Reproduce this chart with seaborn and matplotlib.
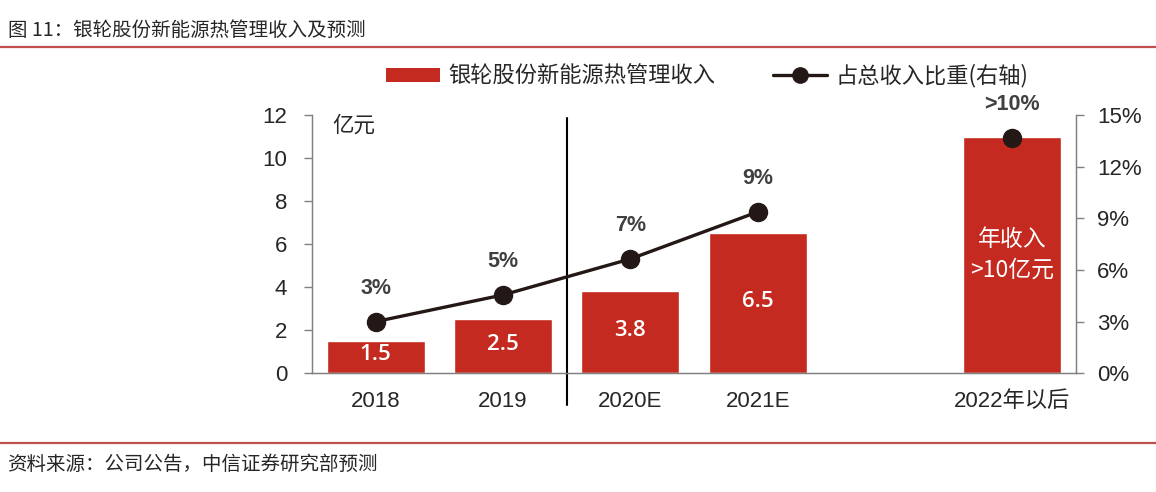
import numpy as np
import pandas as pd
import matplotlib
matplotlib.use("Agg")
import matplotlib.pyplot as plt
import seaborn as sns
from matplotlib.patches import Patch
from matplotlib.lines import Line2D
from matplotlib.ticker import FuncFormatter

# Data
years = ["2018", "2019", "2020E", "2021E", " ", "2022年以后"]
revenue = [1.5, 2.5, 3.8, 6.5, np.nan, 11.0]
bar_labels = ["1.5", "2.5", "3.8", "6.5", "", "年收入\n>10亿元"]
share = [3.0, 4.55, 6.64, 9.37, np.nan, 13.65]
share_labels = ["3%", "5%", "7%", "9%", "", ">10%"]

bar_color = "#C52A20"
line_color = "#231815"
rule_color = "#C0504D"
latin = ["Liberation Sans", "Noto Sans CJK SC"]
cjk = ["Noto Sans CJK SC", "DejaVu Sans"]

sns.set_style("white")
plt.rcParams["font.family"] = latin

df = pd.DataFrame({"year": years, "revenue": revenue}).dropna()

fig = plt.figure(figsize=(11.56, 4.92), dpi=100)
ax = fig.add_axes([0.2699, 0.2413, 0.6609, 0.525])

sns.barplot(data=df, x="year", y="revenue", order=years, color=bar_color,
            width=0.77, saturation=1, ax=ax)
ax.set_xlim(-0.5, len(years) - 0.5)
ax.set_ylim(0, 12)
ax.set_yticks(range(0, 13, 2))
ax.set_xlabel("")
ax.set_ylabel("")

# x ticks: labels at centers, tick marks at category boundaries
ax.set_xticks(range(len(years)))
ax.set_xticklabels(years, fontsize=16, family=latin)
ax.set_xticks(np.arange(-0.5, len(years), 1), minor=True)
ax.tick_params(axis="x", which="major", length=0, pad=13)
ax.tick_params(axis="x", which="minor", length=5, color="#808080", width=1)
ax.tick_params(axis="y", length=6, color="#808080", width=1, labelsize=16, pad=12)

for s in ["left", "bottom", "right"]:
    ax.spines[s].set_color("#808080")
    ax.spines[s].set_linewidth(1)
ax.spines["top"].set_visible(False)

# bar value labels
for i, (v, lab) in enumerate(zip(revenue, bar_labels)):
    if lab == "" or np.isnan(v):
        continue
    if "\n" in lab:
        ax.text(i, v / 2, lab, ha="center", va="center", color="white",
                fontsize=16.5, family=cjk, linespacing=1.45)
    else:
        ax.text(i, v / 2 + 0.1, lab, ha="center", va="center", color="white",
                fontsize=16, fontweight="semibold", family=["Open Sans", "DejaVu Sans"])

ax.text(-0.34, 11.5, "亿元", ha="left", va="center", fontsize=15.5, family=cjk)

# divider between actuals and forecasts
ax.axvline(1.5, ymin=-0.123, ymax=0.99, color="black", lw=1.5, clip_on=False)

# share of total revenue on right axis
ax2 = ax.twinx()
ax2.plot(range(len(years)), share, color=line_color, lw=2.4, marker="o",
         markersize=13, zorder=5)
ax2.set_ylim(0, 15)
ax2.set_yticks(range(0, 16, 3))
ax2.yaxis.set_major_formatter(FuncFormatter(lambda x, p: f"{x:.0f}%"))
ax2.tick_params(axis="y", length=6, color="#808080", width=1, labelsize=16, pad=9)
for s in ["left", "bottom", "right"]:
    ax2.spines[s].set_color("#808080")
ax2.spines["top"].set_visible(False)

for i, (v, lab) in enumerate(zip(share, share_labels)):
    if lab == "":
        continue
    ax2.annotate(lab, (i, v), xytext=(0, 24), textcoords="offset points",
                 ha="center", va="center", fontsize=15.5, fontweight="bold",
                 color="#404040")

# legend
handles = [Patch(facecolor=bar_color, edgecolor="none"),
           Line2D([], [], color=line_color, lw=2.4, marker="o", markersize=11)]
fig.legend(handles, ["银轮股份新能源热管理收入", "占总收入比重(右轴)"],
           loc="center", bbox_to_anchor=(0.612, 0.8455), ncol=2, frameon=False,
           prop={"family": cjk, "size": 16}, handlelength=2.4, handleheight=0.6,
           columnspacing=2.6, handletextpad=0.4)

# title, rules, source
fig.text(0.007, 1 - 30 / 492, "图 11：银轮股份新能源热管理收入及预测",
         ha="left", va="center", fontsize=14, family=cjk)
fig.add_artist(Line2D([0, 1], [1 - 46.5 / 492] * 2, color=rule_color, lw=1.6))
fig.add_artist(Line2D([0, 1], [1 - 442.5 / 492] * 2, color=rule_color, lw=1.6))
fig.text(0.006, 1 - 464 / 492, "资料来源：公司公告，中信证券研究部预测",
         ha="left", va="center", fontsize=14, family=cjk)

fig.savefig("out.png", dpi=100)
